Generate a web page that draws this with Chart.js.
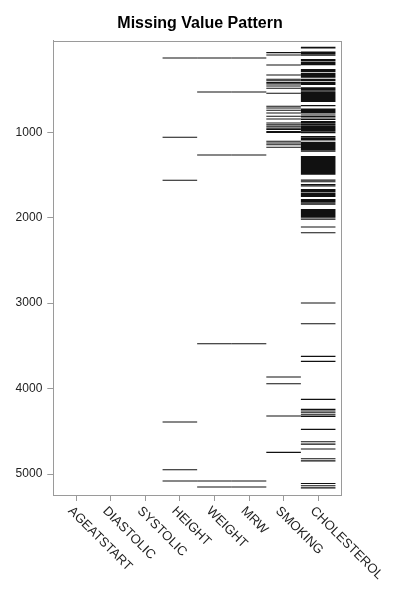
<!DOCTYPE html>
<html><head><meta charset="utf-8">
<script src="https://cdn.jsdelivr.net/npm/chart.js@4/dist/chart.umd.min.js"></script>
<style>html,body{margin:0;padding:0;background:#fff}#wrap{width:400px;height:600px;position:relative}</style>
</head><body><div id="wrap"><canvas id="c"></canvas></div>
<script>
// Variables (columns) and the observation numbers where each is missing
const variables = ['AGEATSTART','DIASTOLIC','SYSTOLIC','HEIGHT','WEIGHT','MRW','SMOKING','CHOLESTEROL'];
const missAgeAtStart = [];
const missDiastolic = [];
const missSystolic = [];
const missHeight = [130, 1058, 1562, 4391, 4949, 5082];
const missWeight = [130, 528, 1266, 3474, 5082, 5152];
const missMrw = [130, 528, 1266, 3474, 5082, 5152];
const missSmoking = [68, 95, 212, 329, 379, 396, 419, 434, 458, 485, 543, 695, 715, 742, 774, 812, 844,
  891, 912, 930, 951, 968, 990, 1003, 1105, 1125, 1145, 1175, 3864, 3943, 4321, 4746];
const missCholesterol = [6, 14, 62, 71, 84, 98, 148, 160, 178, 190, 199, 210, 265, 276, 288,
  311, 322, 333, 344, 356, 381, 395, 417, 430, 441, 480, 492, 506,
  527, 538, 550, 562, 574, 586, 598, 609, 621, 632, 640, 688, 729, 740, 751, 762, 773,
  797, 815, 833, 850, 873, 886, 900, 912, 926, 940, 952, 966, 979, 993, 1006,
  1049, 1063, 1077, 1090, 1118, 1130, 1143, 1156, 1169, 1182, 1195, 1208, 1221,
  1283, 1296, 1309, 1322, 1335, 1348, 1361, 1374, 1387, 1400, 1413, 1426, 1439, 1452, 1465, 1478, 1490,
  1560, 1578, 1611, 1627, 1669, 1683, 1697, 1716, 1729, 1741, 1752, 1786, 1799, 1812, 1827, 1842,
  1903, 1917, 1931, 1945, 1958, 1972, 1986, 2001, 2017, 2108, 2175,
  2998, 3240, 3622, 3681, 4126, 4243, 4262, 4282, 4305, 4325, 4477, 4622, 4649, 4707, 4820, 4846, 5111, 5137, 5162];
const yTicks = [1000, 2000, 3000, 4000, 5000];
const yMin = -72, yMax = 5245;

const missingLists = [missAgeAtStart, missDiastolic, missSystolic, missHeight, missWeight, missMrw, missSmoking, missCholesterol];

const datasets = missingLists.map((list, i) => {
  const pts = [];
  list.forEach(v => {
    pts.push({x: i - 0.5, y: v}, {x: i + 0.5, y: v}, {x: i + 0.5, y: null});
  });
  return {
    label: variables[i], data: pts, showLine: true, spanGaps: false,
    borderColor: '#111', borderWidth: 1.1, pointRadius: 0, pointHoverRadius: 0
  };
});

const frameColor = '#9a9a9a';

const framePlugin = {
  id: 'frame',
  afterDraw(chart) {
    const a = chart.chartArea, ctx = chart.ctx;
    ctx.save();
    ctx.strokeStyle = frameColor; ctx.lineWidth = 1;
    ctx.strokeRect(Math.round(a.left) + 0.5, Math.round(a.top) + 0.5, Math.round(a.right - a.left), Math.round(a.bottom - a.top));
    ctx.restore();
  }
};

const xLabelPlugin = {
  id: 'xlabels',
  afterDraw(chart) {
    const xs = chart.scales.x, ctx = chart.ctx, a = chart.chartArea;
    ctx.save();
    ctx.fillStyle = '#222';
    ctx.font = '13px "Liberation Sans", Arial, sans-serif';
    ctx.textAlign = 'left'; ctx.textBaseline = 'middle';
    variables.forEach((name, i) => {
      const px = xs.getPixelForValue(i);
      ctx.save();
      ctx.translate(px - 6, a.bottom + 14);
      ctx.rotate(Math.PI / 4);
      ctx.fillText(name, 0, 0);
      ctx.restore();
    });
    ctx.restore();
  }
};

new Chart(document.getElementById('c'), {
  type: 'scatter',
  data: { datasets },
  options: {
    responsive: true, maintainAspectRatio: false, animation: false,
    layout: { padding: 0 },
    plugins: {
      legend: { display: false }, tooltip: { enabled: false },
      title: {
        display: true, text: 'Missing Value Pattern', color: '#000',
        font: { size: 16, weight: 'bold', family: '"Liberation Sans", Arial, sans-serif' },
        padding: { top: 14.4, bottom: 7.1 }
      }
    },
    scales: {
      x: {
        type: 'linear', position: 'bottom', min: -0.66, max: 7.66,
        afterBuildTicks: s => { s.ticks = variables.map((_, i) => ({ value: i })); },
        afterFit: s => { s.height = 105; },
        ticks: { display: false },
        grid: { display: true, drawOnChartArea: false, drawTicks: true, tickLength: 6, color: frameColor },
        border: { display: true, color: frameColor }
      },
      y: {
        type: 'linear', position: 'left', reverse: true, min: yMin, max: yMax,
        afterBuildTicks: s => { s.ticks = yTicks.map(v => ({ value: v })); },
        afterFit: s => { s.width = 53.3; },
        ticks: { color: '#222', padding: 5, font: { size: 12, family: '"Liberation Sans", Arial, sans-serif' },
          callback: v => String(v) },
        grid: { display: true, drawOnChartArea: false, drawTicks: true, tickLength: 6, color: frameColor },
        border: { display: true, color: frameColor }
      },
      yRight: {
        type: 'linear', position: 'right', display: true,
        afterFit: s => { s.width = 59; },
        ticks: { display: false }, grid: { display: false }, border: { display: false }
      }
    }
  },
  plugins: [framePlugin, xLabelPlugin]
});
</script></body></html>
